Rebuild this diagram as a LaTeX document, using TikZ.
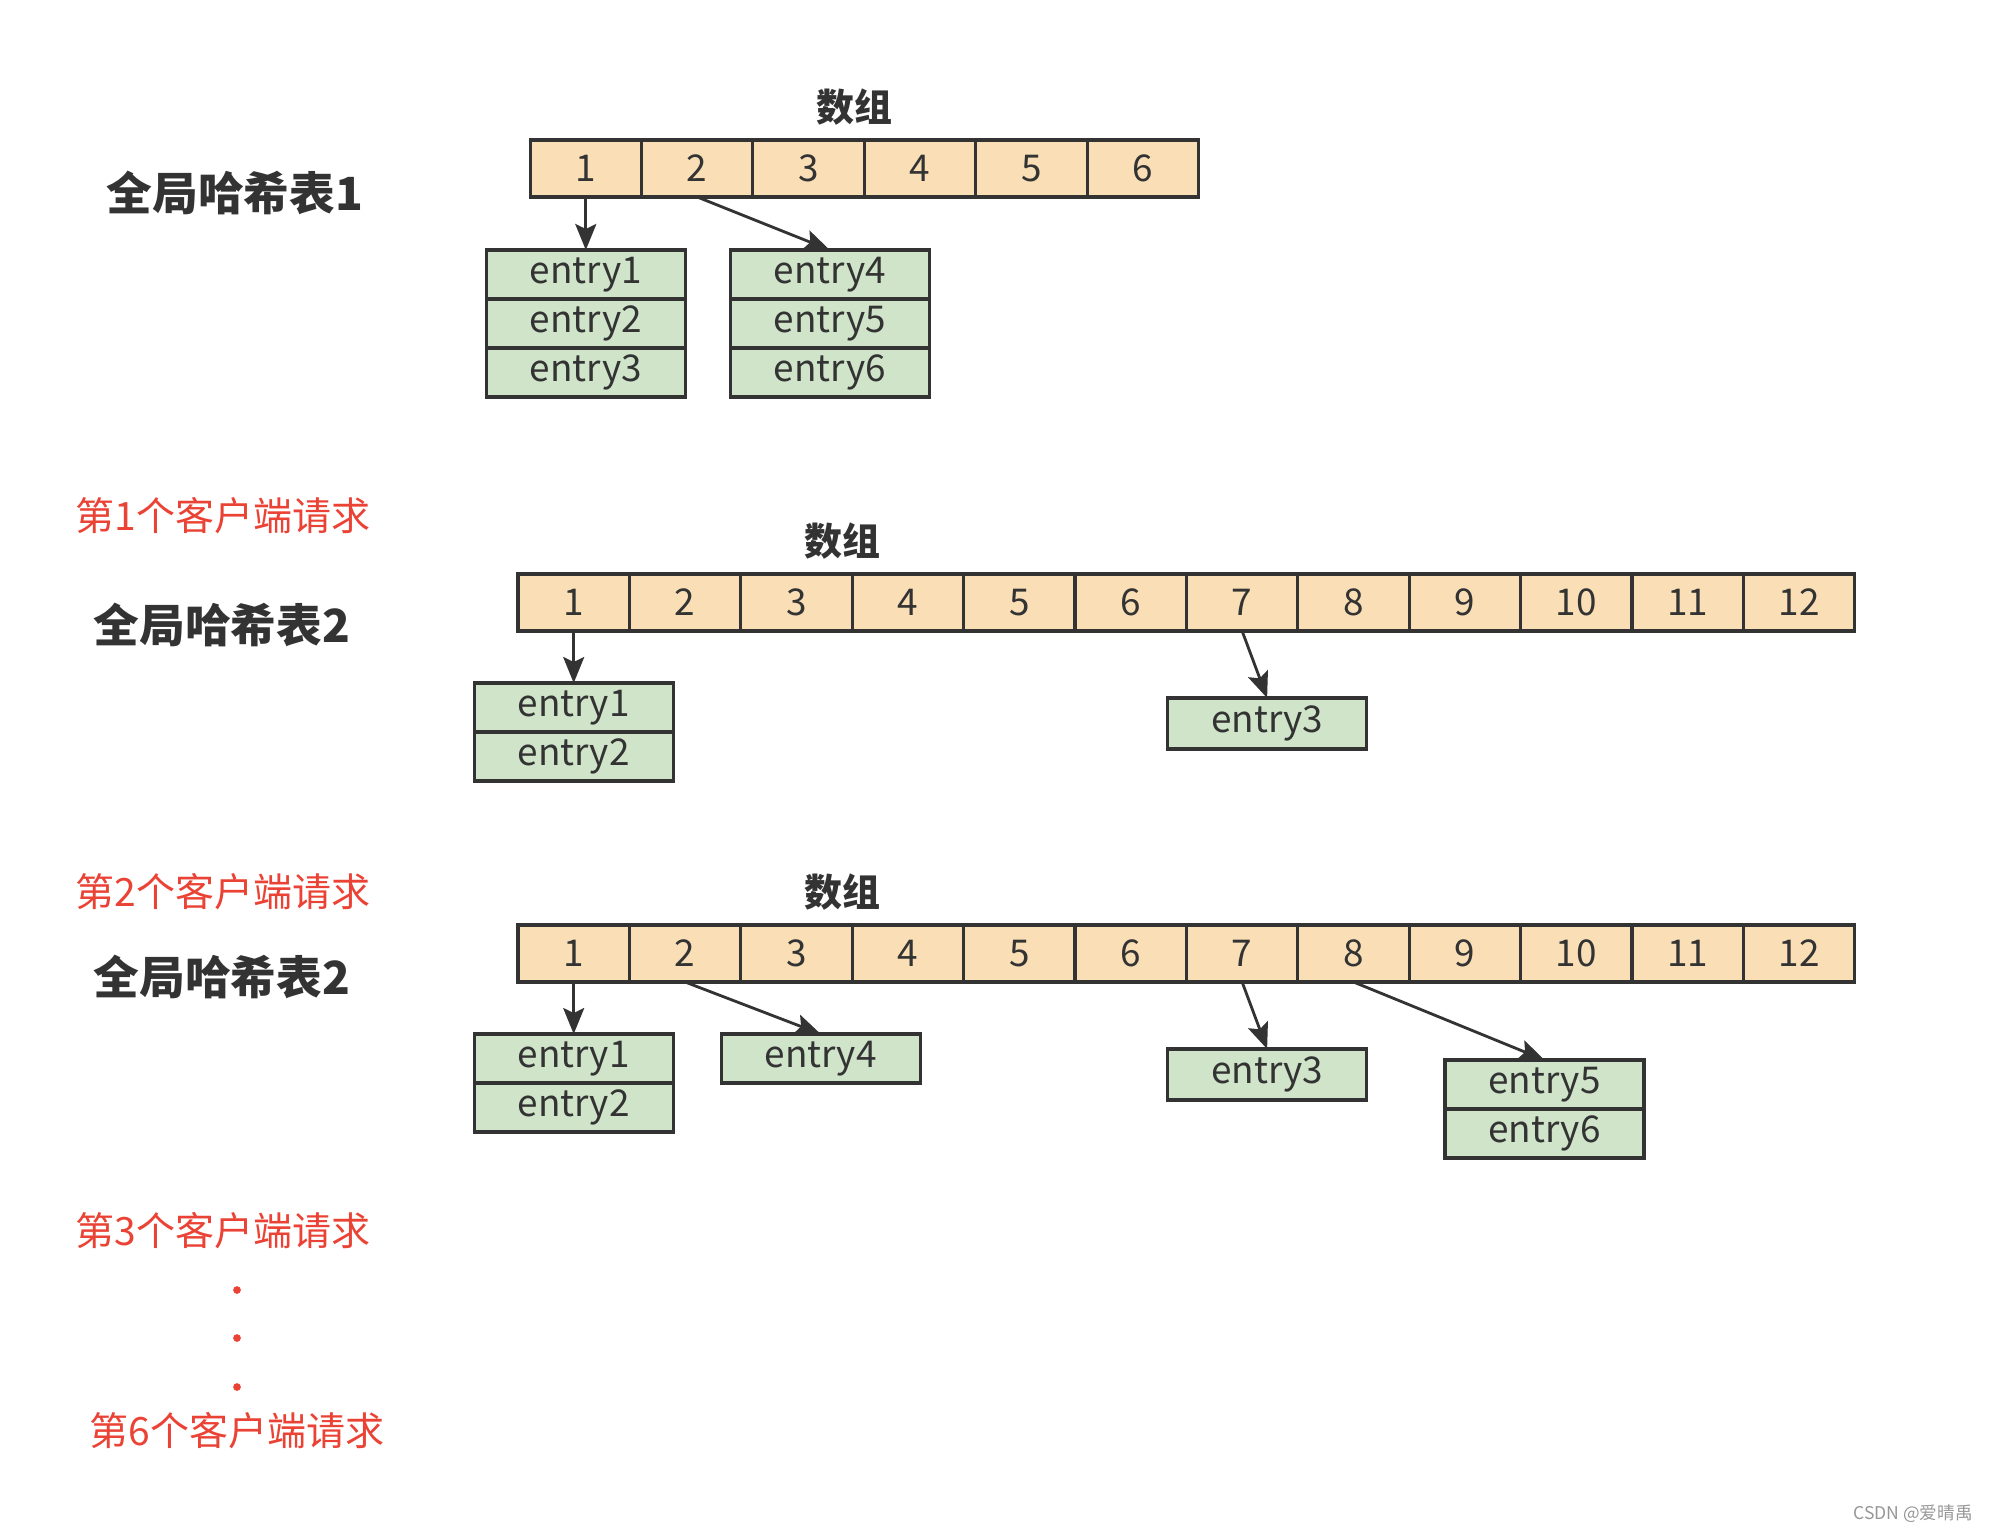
\documentclass[tikz,border=0pt]{standalone}
\usepackage{fontspec}
\setmainfont{Noto Sans CJK SC}
\usepackage{tikz}
\usetikzlibrary{arrows.meta, positioning, calc}
\definecolor{slotorange}{RGB}{249,222,182}
\definecolor{entrygreen}{RGB}{207,228,201}
\definecolor{linegray}{RGB}{51,51,51}
\definecolor{reqred}{RGB}{234,67,53}
\definecolor{markgray}{RGB}{150,150,150}
\tikzset{
  %% ---- boxes ----
  slot/.style    = {rectangle, draw=linegray, line width=0.9pt,
                    fill=slotorange, minimum width=1.114cm,
                    minimum height=0.57cm, inner sep=0pt, outer sep=0pt,
                    text=linegray, font=\fontsize{10.5}{12}\selectfont},
  entry/.style   = {rectangle, draw=linegray, line width=0.9pt,
                    fill=entrygreen, minimum width=1.99cm,
                    minimum height=#1, inner sep=0pt, outer sep=0pt,
                    text=linegray, font=\fontsize{10.5}{12}\selectfont},
  entry/.default = 0.49cm,
  %% ---- texts ----
  tabtitle/.style = {text=linegray, font=\fontsize{13}{15}\selectfont\bfseries},
  arrlabel/.style = {text=linegray, font=\fontsize{10.8}{12}\selectfont\bfseries},
  request/.style  = {text=reqred, font=\fontsize{11.1}{13}\selectfont},
  dotmark/.style  = {circle, fill=reqred, inner sep=0pt, minimum size=2.2pt},
  %% ---- arrows ----
  ptr/.style     = {-{Stealth[length=2.6mm, width=2.1mm, inset=0.5mm]},
                    line width=0.8pt, color=linegray},
}

\begin{document}
\begin{tikzpicture}
\useasboundingbox (0,0) rectangle (19.9,-15.3);

%% ---- table 1 ----
\node[tabtitle] (ta) at (2.35,-1.93) {全局哈希表1};
\node[slot] (ha-1) at (5.858,-1.685) {1};
\foreach \i [count=\p] in {2,...,6}
  \node[slot, right=0pt of ha-\p] (ha-\i) {\i};
\node[arrlabel] (ha-lbl) at ($(ha-3.north east)+(-0.1,0.33)$) {数组};
\node[entry, below=0.53cm of ha-1] (ha-e1) {entry1};
\node[entry, below=0pt of ha-e1] (ha-e2) {entry2};
\node[entry, below=0pt of ha-e2] (ha-e3) {entry3};
\node[entry, right=0.45cm of ha-e1] (ha-e4) {entry4};
\node[entry, below=0pt of ha-e4] (ha-e5) {entry5};
\node[entry, below=0pt of ha-e5] (ha-e6) {entry6};
\draw[ptr] (ha-1.south) -- (ha-e1.north);
\draw[ptr] (ha-2.south) -- (ha-e4.north);

%% ---- table 2, first request ----
\node[request] (rq1) at (2.23,-5.16) {第1个客户端请求};
\node[tabtitle] (tb) at (2.22,-6.25) {全局哈希表2};
\node[slot] (hb-1) at (5.737,-6.025) {1};
\foreach \i [count=\p] in {2,...,12}
  \node[slot, right=0pt of hb-\p] (hb-\i) {\i};
\node[arrlabel] (hb-lbl) at ($(hb-3.north east)+(-0.1,0.33)$) {数组};
\node[entry, below=0.52cm of hb-1] (hb-e1) {entry1};
\node[entry, below=0pt of hb-e1] (hb-e2) {entry2};
\node[entry=0.51cm, below=0.67cm of hb-7, xshift=0.25cm] (hb-e3) {entry3};
\draw[ptr] (hb-1.south) -- (hb-e1.north);
\draw[ptr] (hb-7.south) -- (hb-e3.north);

%% ---- table 2, second request ----
\node[request] (rq2) at (2.23,-8.92) {第2个客户端请求};
\node[tabtitle] (tc) at (2.22,-9.77) {全局哈希表2};
\node[slot] (hc-1) at (5.737,-9.535) {1};
\foreach \i [count=\p] in {2,...,12}
  \node[slot, right=0pt of hc-\p] (hc-\i) {\i};
\node[arrlabel] (hc-lbl) at ($(hc-3.north east)+(-0.1,0.33)$) {数组};
\node[entry, below=0.52cm of hc-1] (hc-e1) {entry1};
\node[entry, below=0pt of hc-e1] (hc-e2) {entry2};
\node[entry, right=0.48cm of hc-e1] (hc-e4) {entry4};
\node[entry=0.51cm, below=0.67cm of hc-7, xshift=0.25cm] (hc-e3) {entry3};
\node[entry, below=0.78cm of hc-8, xshift=1.91cm] (hc-e5) {entry5};
\node[entry, below=0pt of hc-e5] (hc-e6) {entry6};
\draw[ptr] (hc-1.south) -- (hc-e1.north);
\draw[ptr] (hc-2.south) -- (hc-e4.north);
\draw[ptr] (hc-7.south) -- (hc-e3.north);
\draw[ptr] (hc-8.south) -- (hc-e5.north);

%% ---- later requests ----
\node[request] (rq3) at (2.23,-12.31) {第3个客户端请求};
\node[dotmark] (d1) at (2.37,-12.90) {};
\node[dotmark] (d2) at (2.37,-13.38) {};
\node[dotmark] (d3) at (2.37,-13.87) {};
\node[request] (rq6) at (2.37,-14.31) {第6个客户端请求};

\node[text=markgray, font=\fontsize{5}{6}\selectfont, anchor=east] (mark) at (19.85,-15.14) {CSDN @爱晴禹};
\end{tikzpicture}
\end{document}
